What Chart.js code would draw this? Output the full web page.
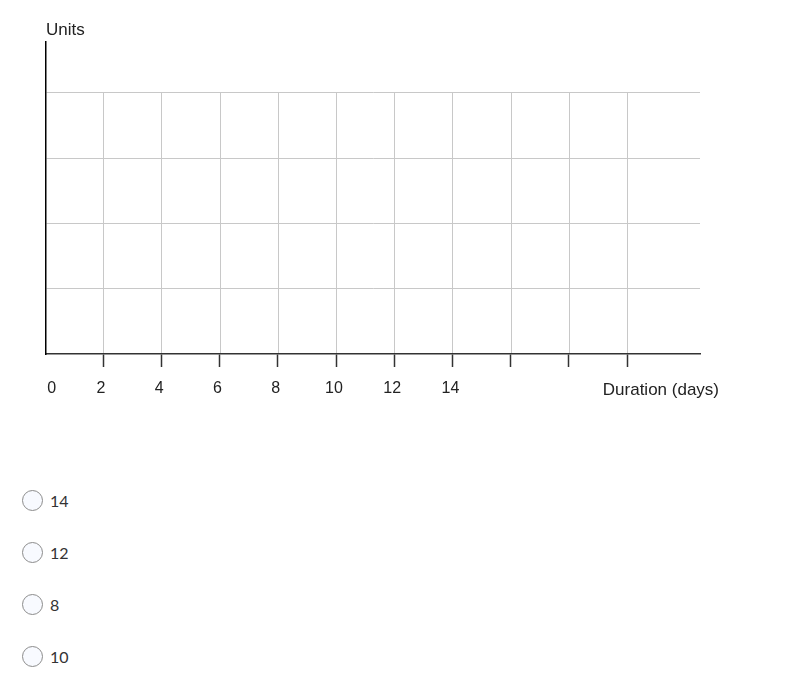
<!DOCTYPE html>
<html>
<head>
<meta charset="utf-8">
<script src="https://cdn.jsdelivr.net/npm/chart.js@4"></script>
<style>
  body { margin: 0; background: #fff; }
  #wrap { position: absolute; left: 0; top: 0; width: 805px; height: 414px; }
  .opt { position: absolute; left: 22px; height: 22px; display: flex; align-items: center;
         font-family: Lato, sans-serif; font-size: 16px; color: #333; }
  .opt input { appearance: none; -webkit-appearance: none; margin: 0 7px 0 0; width: 21px; height: 21px;
               border: 1px solid #8c8c8c; border-radius: 50%; background: #f8faff; box-sizing: border-box; }
</style>
</head>
<body>
<div id="wrap"><canvas id="chart" width="805" height="414"></canvas></div>
<div id="choices"></div>
<script>
// axis values
const xTicks = [0, 2, 4, 6, 8, 10, 12, 14, 16, 18, 20];
const xTickLabels = ['0', '2', '4', '6', '8', '10', '12', '14', '', '', ''];
const yTicks = [1, 2, 3, 4];
const choices = ['14', '12', '8', '10'];

// answer options under the chart
const choiceBox = document.getElementById('choices');
choices.forEach((c, i) => {
    const lab = document.createElement('label');
    lab.className = 'opt';
    lab.style.top = (489 + i * 52.3) + 'px';
    lab.innerHTML = `<input type="radio" name="ans">${c}`;
    choiceBox.appendChild(lab);
});

// vertical grid lines only up to the top horizontal line
const xGrid = {
    id: 'xGrid',
    beforeDraw(chart) {
        const { ctx, scales: { x, y } } = chart;
        const top = y.getPixelForValue(yTicks[yTicks.length - 1]);
        ctx.save();
        ctx.strokeStyle = '#c8c8c8';
        ctx.lineWidth = 1;
        xTicks.filter(v => v > 0).forEach(v => {
            const px = Math.round(x.getPixelForValue(v)) + 0.5;
            ctx.beginPath();
            ctx.moveTo(px, top);
            ctx.lineTo(px, y.bottom);
            ctx.stroke();
        });
        ctx.restore();
    },
    afterDraw(chart) {
        const { ctx, scales: { x } } = chart;
        ctx.save();
        ctx.font = '17px "Liberation Sans", Arial, sans-serif';
        ctx.fillStyle = '#222';
        ctx.textAlign = 'right';
        ctx.textBaseline = 'middle';
        ctx.fillText('Duration (days)', x.right + 19, x.top + 36);
        ctx.restore();
    }
};

Chart.defaults.font.family = '"Liberation Sans", Arial, sans-serif';

new Chart(document.getElementById('chart').getContext('2d'), {
    type: 'scatter',
    data: { datasets: [{ data: [] }] },
    options: {
        responsive: false,
        animation: false,
        layout: { padding: { left: 46, right: 105, top: 0, bottom: 0 } },
        plugins: {
            legend: { display: false },
            tooltip: { enabled: false },
            title: {
                display: true, text: 'Units', align: 'start', color: '#222',
                font: { size: 17, weight: 'normal' },
                padding: { top: 20, bottom: 1.6 }
            }
        },
        scales: {
            x: {
                type: 'linear', min: 0.04, max: 22.5,
                afterBuildTicks: s => { s.ticks = xTicks.map(v => ({ value: v })); },
                afterFit: s => { s.height = 60; },
                ticks: {
                    autoSkip: false, maxRotation: 0, padding: 12, color: '#222',
                    labelOffset: -2,
                    font: { size: 16 },
                    // the 0 label sits a little right of the axis corner
                    callback: (v, i) => v === 0 ? '\u2007\u2007' + xTickLabels[i] : xTickLabels[i]
                },
                grid: {
                    display: true, drawOnChartArea: false, tickLength: 13, tickWidth: 1.5,
                    tickColor: c => (c.tick && c.tick.value === 0) ? 'rgba(0,0,0,0)' : '#333'
                },
                border: { color: '#333', width: 1.5 }
            },
            y: {
                type: 'linear', min: 0, max: 4.78,
                afterBuildTicks: s => { s.ticks = yTicks.map(v => ({ value: v })); },
                afterFit: s => { s.width = 0; },
                ticks: { display: false },
                grid: { color: '#c8c8c8', drawTicks: false, lineWidth: 1 },
                border: { color: '#000', width: 1.5 }
            }
        }
    },
    plugins: [xGrid]
});
</script>
</body>
</html>
